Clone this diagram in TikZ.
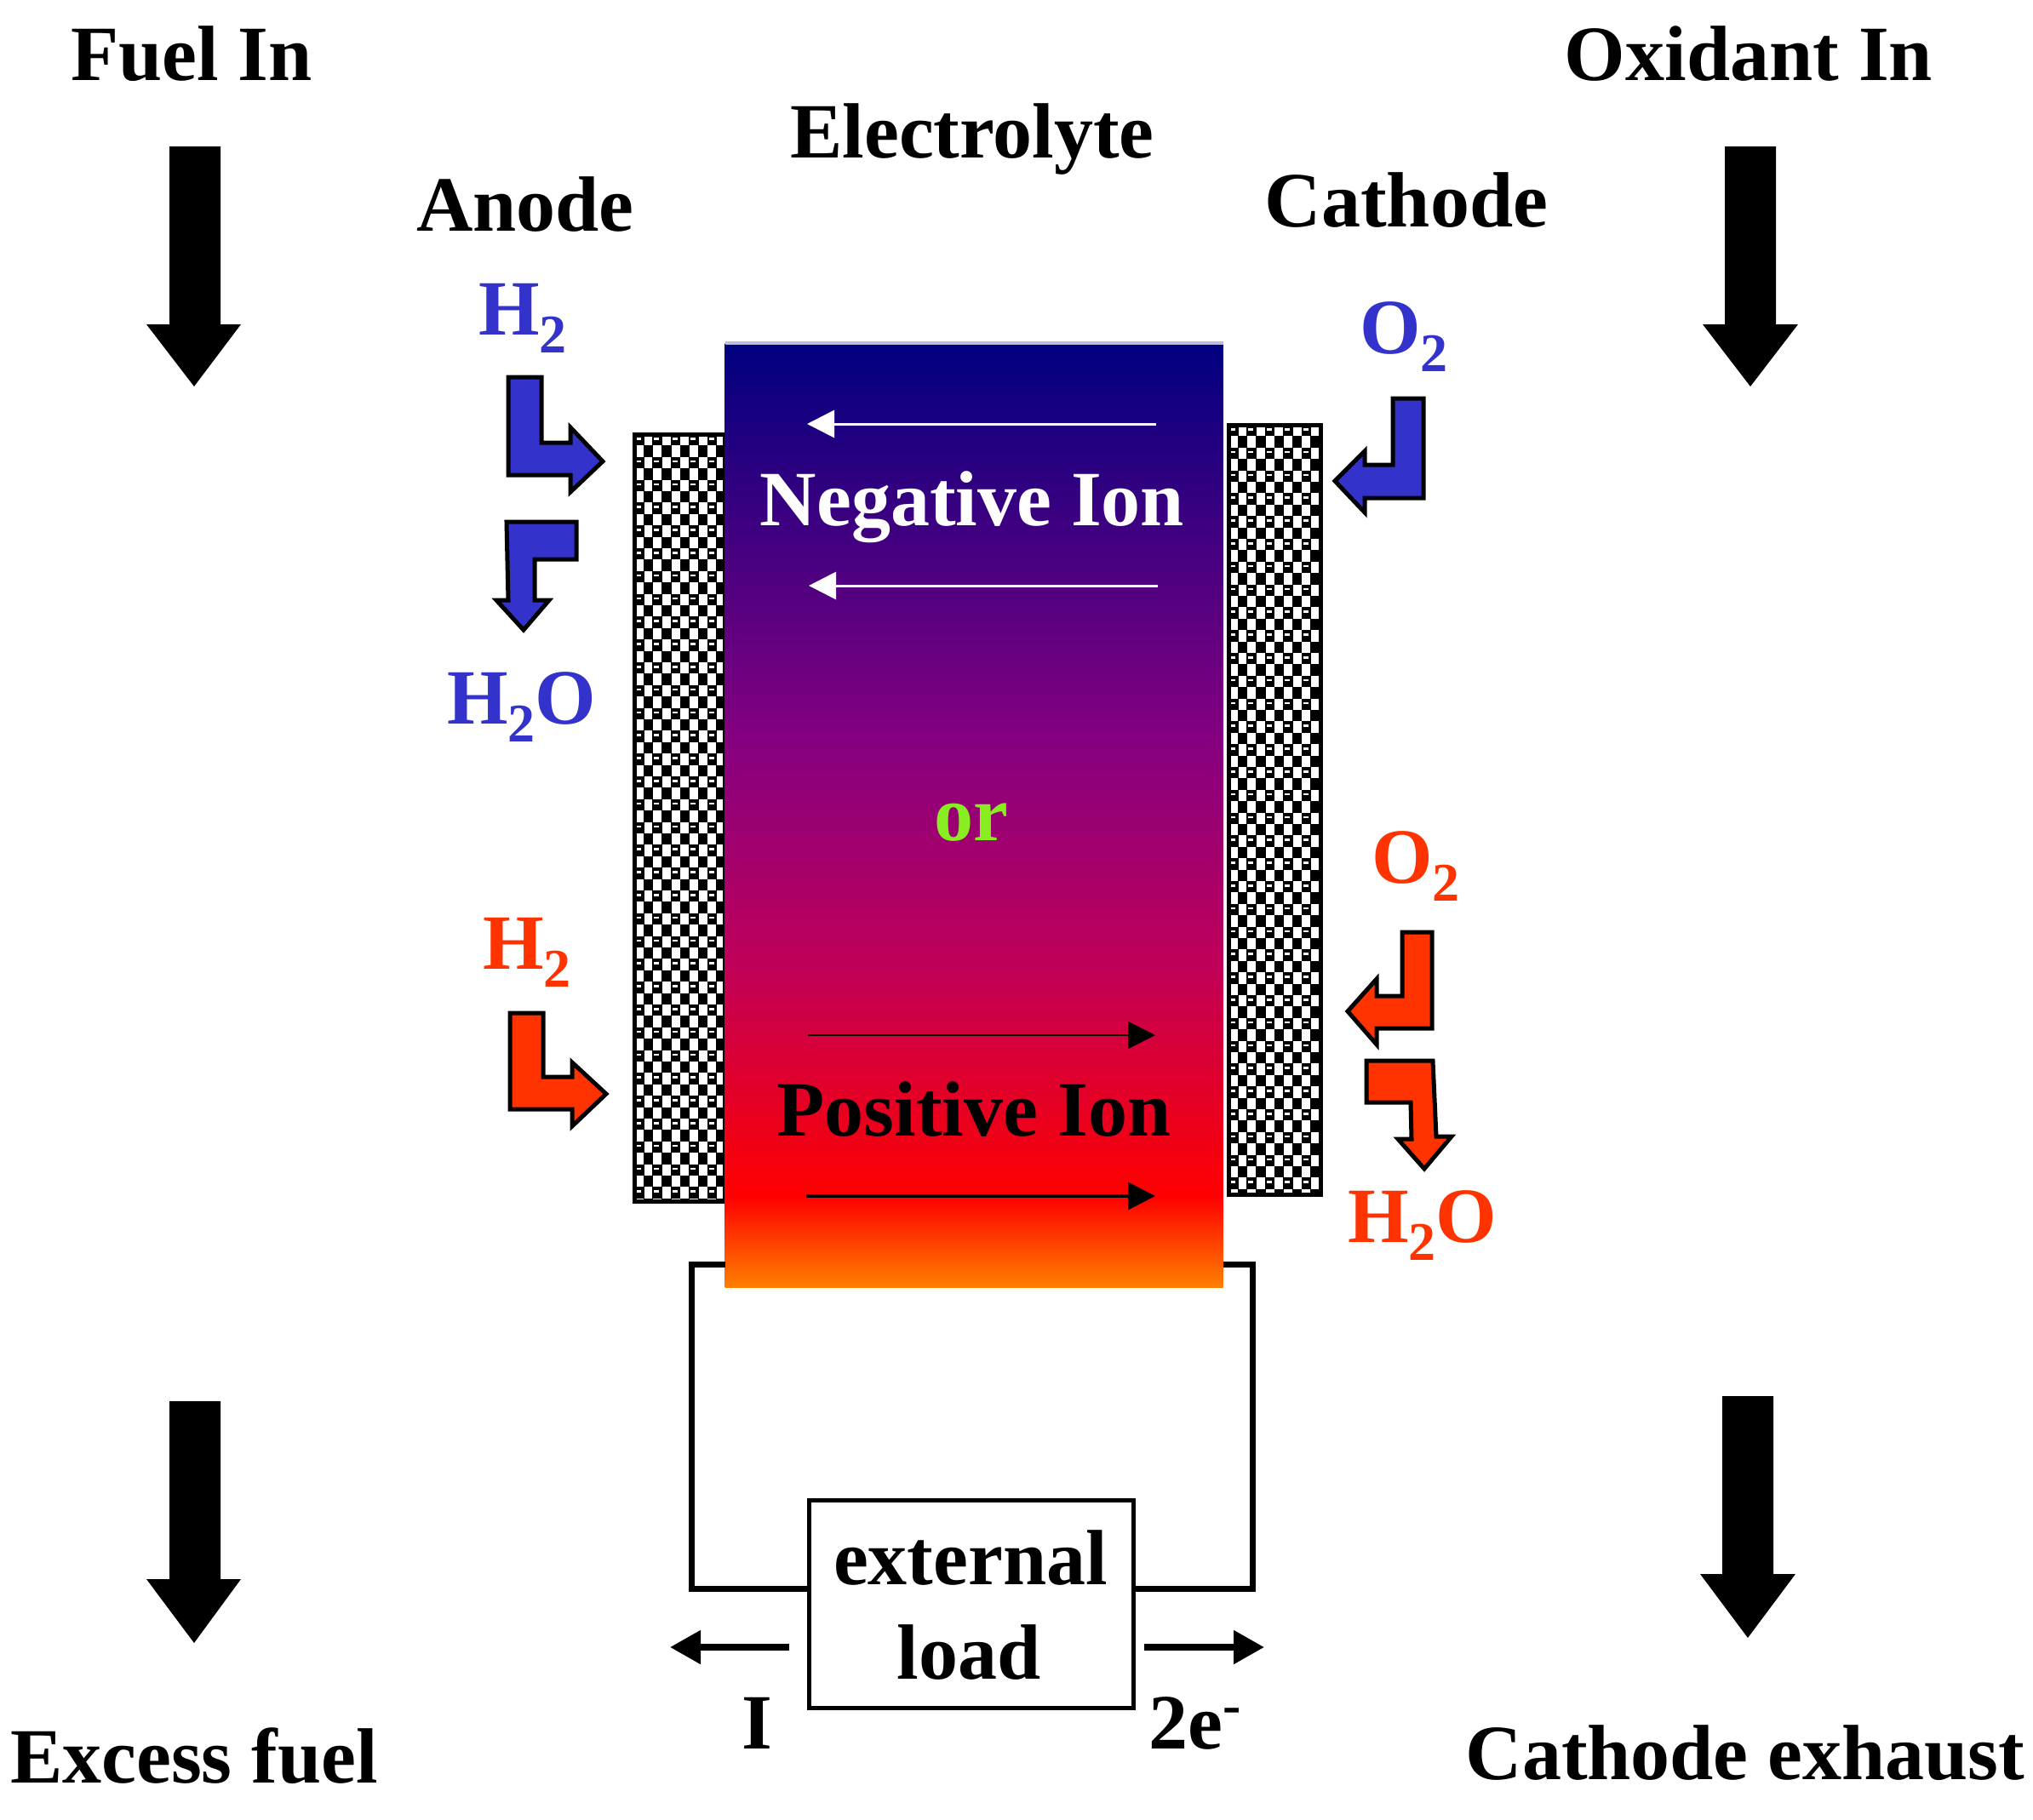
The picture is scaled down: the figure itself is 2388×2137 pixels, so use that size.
\documentclass[tikz,border=0pt]{standalone}
\usepackage{fontspec}
\setmainfont{Liberation Serif}
\usetikzlibrary{arrows.meta}
\definecolor{chemblue}{HTML}{3333CC}
\definecolor{chemred}{HTML}{FF3300}
\definecolor{orgreen}{HTML}{88EE22}
\definecolor{edgelav}{HTML}{BBBBDD}
\pgfdeclareverticalshading{elecshade}{100bp}{rgb(0bp)=(1,0.5,0); rgb(25bp)=(1,0.5,0); rgb(29.8bp)=(1,0,0); rgb(42.2bp)=(0.75,0,0.35); rgb(54bp)=(0.52,0,0.5); rgb(75bp)=(0,0,0.5); rgb(100bp)=(0,0,0.5)}
\newcommand{\subtwo}{\raisebox{-10.5pt}{\fontsize{32}{32}\selectfont 2}}
\newcommand{\electrode}[4]{%
  \begin{scope}
    \clip (#1,#2) rectangle (#3,#4);
    \fill[white] (#1,#2) rectangle (#3,#4);
    \foreach \j in {0,...,68}{
      \pgfmathsetmacro{\yy}{#2+13.4*\j}
      \pgfmathsetmacro{\yb}{\yy+13.4}
      \pgfmathsetmacro{\off}{mod(\j,2)*10.7}
      \foreach \i in {0,...,5}{
        \pgfmathsetmacro{\xx}{#1+\off+21.4*\i}
        \pgfmathsetmacro{\xb}{\xx+11.5}
        \fill[black] (\xx,\yy) rectangle (\xb,\yb);
        \pgfmathsetmacro{\dx}{\xx+2}
        \pgfmathsetmacro{\dy}{\yy+4}
        \pgfmathsetmacro{\dxb}{\xx+8}
        \pgfmathsetmacro{\dyb}{\yy+6.5}
        \ifodd\j\relax\else\fill[white] (\dx,\dy) rectangle (\dxb,\dyb);\fi
      }
    }
  \end{scope}
  \draw[black,line width=2.5pt] (#1,#2) rectangle (#3,#4);
}
\tikzset{
  x=0.5pt,y=-0.5pt,
  lab/.style={inner sep=0pt,anchor=base,font=\fontsize{46}{46}\selectfont\bfseries},
  chem/.style={lab,anchor=base west},
  bigarrow/.style={fill=black,draw=none},
  bluebent/.style={fill=chemblue,draw=black,line width=2.5pt,line join=miter},
  redbent/.style={fill=chemred,draw=black,line width=2.5pt,line join=miter},
  wire/.style={draw=black,line width=3.5pt,line join=miter},
  ionwhite/.style={draw=white,line width=1.5pt,-{Triangle[length=16pt,width=16pt]}},
  iondark/.style={draw=black,line width=1pt,-{Triangle[length=16pt,width=16pt]}},
  iondarkb/.style={draw=black,line width=2pt,-{Triangle[length=16pt,width=16pt]}},
  flowarrow/.style={draw=black,line width=4pt,-{Triangle[length=18pt,width=19pt]}},
}
\begin{document}
\begin{tikzpicture}
\useasboundingbox (0,0) rectangle (2388,2137);
\fill[white] (0,0) rectangle (2388,2137);

% electrodes
\electrode{745}{510}{851}{1411}
\electrode{1443}{499}{1551}{1403}

% electrolyte
\node[inner sep=0pt,outer sep=0pt,minimum width=292.5pt,minimum height=554.5pt,shading=elecshade] (elec) at (1144,957.5) {};
\draw[edgelav,line width=2pt] (elec.north west) -- (elec.north east);

% circuit
\node[draw=black,line width=2.5pt,fill=white,inner sep=0pt,minimum width=190.5pt,minimum height=122pt] (load) at (1140.5,1884) {};
\node[lab] (t-external) at (1140,1861) {external};
\node[lab] (t-load) at (1138,1972) {load};
\coordinate (wl) at (elec.west |- 0,1485);
\coordinate (wr) at (elec.east |- 0,1485);
\draw[wire] (wl) -- (812,1485) -- (812,1866) -- (load.west |- 0,1866);
\draw[wire] (wr) -- (1471,1485) -- (1471,1866) -- (load.east |- 0,1866);

% flow arrows
\coordinate (ia) at (927,1935); \coordinate (ib) at (787,1935);
\coordinate (ea) at (1344,1935); \coordinate (eb) at (1485,1935);
\draw[flowarrow] (ia) -- (ib);
\draw[flowarrow] (ea) -- (eb);

% big black arrows
\fill[bigarrow] (199,172) -- (259,172) -- (259,381) -- (283,381) -- (228,454) -- (172,381) -- (199,381) -- cycle;
\fill[bigarrow] (2026,172) -- (2086,172) -- (2086,381) -- (2112,381) -- (2056,454) -- (2000,381) -- (2026,381) -- cycle;
\fill[bigarrow] (199,1646) -- (259,1646) -- (259,1855) -- (283,1855) -- (228,1930) -- (172,1855) -- (199,1855) -- cycle;
\fill[bigarrow] (2023,1640) -- (2083,1640) -- (2083,1849) -- (2109,1849) -- (2053,1924) -- (1997,1849) -- (2023,1849) -- cycle;

% bent arrows, blue
\draw[bluebent] (597,443) -- (636,443) -- (636,520) -- (670,520) -- (670,502) -- (708,542) -- (670,578) -- (670,558) -- (597,558) -- cycle;
\draw[bluebent] (595,613) -- (677,613) -- (677,657) -- (628,657) -- (628,705) -- (645,705) -- (615,740) -- (583,705) -- (597,705) -- cycle;
\draw[bluebent] (1672,468) -- (1636,468) -- (1636,546) -- (1603,546) -- (1603,530) -- (1568,565) -- (1603,602) -- (1603,585) -- (1672,585) -- cycle;
% bent arrows, red
\draw[redbent] (599,1190) -- (638,1190) -- (638,1265) -- (672,1265) -- (672,1248) -- (712,1285) -- (672,1323) -- (672,1303) -- (599,1303) -- cycle;
\draw[redbent] (1682,1095) -- (1647,1095) -- (1647,1170) -- (1617,1170) -- (1617,1150) -- (1583,1188) -- (1617,1227) -- (1617,1208) -- (1682,1208) -- cycle;
\draw[redbent] (1605,1246) -- (1683,1246) -- (1687,1335) -- (1705,1335) -- (1673,1373) -- (1642,1338) -- (1658,1338) -- (1657,1295) -- (1605,1295) -- cycle;

% ion arrows
\coordinate (n1a) at (1358,498); \coordinate (n1b) at (948,498);
\coordinate (n2a) at (1360,688); \coordinate (n2b) at (950,688);
\coordinate (p1a) at (949,1216); \coordinate (p1b) at (1357,1216);
\coordinate (p2a) at (947,1405); \coordinate (p2b) at (1357,1405);
\draw[ionwhite] (n1a) -- (n1b);
\draw[ionwhite] (n2a) -- (n2b);
\draw[iondark] (p1a) -- (p1b);
\draw[iondarkb] (p2a) -- (p2b);

% labels
\node[lab] (t-fuelin) at (225,94) {Fuel In};
\node[lab] (t-oxin) at (2054,94) {Oxidant In};
\node[lab] (t-electrolyte) at (1142,185) {Electrolyte};
\node[lab] (t-anode) at (617,271) {Anode};
\node[lab] (t-cathode) at (1652,266) {Cathode};
\node[lab,white] (t-neg) at (1142,617) {Negative Ion};
\node[lab,orgreen] (t-or) at (1141,987) {or};
\node[lab] (t-pos) at (1144,1334) {Positive Ion};
\node[lab] (t-excess) at (228,2094) {Excess fuel};
\node[lab] (t-exhaust) at (2050,2090) {Cathode exhaust};
\node[lab] (t-i) at (889,2054) {I};
\node[chem] (t-e) at (1349,2054) {2e\raisebox{14.6pt}{\fontsize{32}{32}\selectfont -}};

\node[chem,chemblue] (t-h2b) at (562,393) {H\subtwo};
\node[chem,chemblue] (t-h2ob) at (525,850) {H\subtwo O};
\node[chem,chemblue] (t-o2b) at (1597,415) {O\subtwo};
\node[chem,chemred] (t-h2r) at (567,1138) {H\subtwo};
\node[chem,chemred] (t-o2r) at (1611,1037) {O\subtwo};
\node[chem,chemred] (t-h2or) at (1583,1459) {H\subtwo O};
\end{tikzpicture}
\end{document}
